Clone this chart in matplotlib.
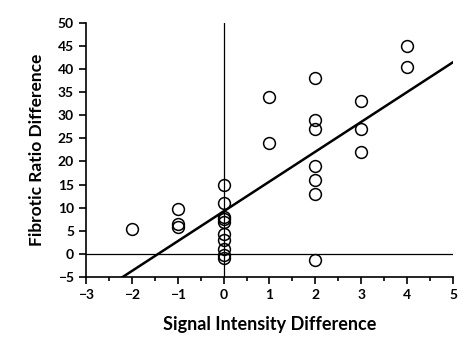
import numpy as np
import matplotlib.pyplot as plt

plt.rcParams['font.family'] = ['Lato', 'DejaVu Sans']

# signal intensity difference (x) and fibrotic ratio difference (y)
signal_diff = [-2,
               -1, -1, -1,
               0, 0, 0, 0, 0, 0, 0, 0, 0, 0,
               1, 1,
               2, 2, 2, 2, 2, 2, 2,
               3, 3, 3,
               4, 4]
fibrotic_diff = [5.5,
                 9.7, 6.5, 5.8,
                 15, 11, 8, 7.5, 7, 4.3, 3, 1, -0.3, -0.8,
                 34, 24,
                 38, 29, 27, 19, 16, 13, -1.3,
                 33, 27, 22,
                 45, 40.5]

# fitted regression line
fit_slope = 6.46
fit_intercept = 9.2

fig = plt.figure(figsize=(4.74, 3.57), dpi=100)
ax = fig.add_axes([0.181, 0.224, 0.775, 0.712])

# reference lines
ax.axhline(0, color='black', linewidth=0.9, zorder=1)
ax.axvline(0, color='black', linewidth=0.9, zorder=1)

xfit = np.array([-3, 5])
ax.plot(xfit, fit_slope * xfit + fit_intercept, color='black', linewidth=1.8, zorder=2)

ax.plot(signal_diff, fibrotic_diff, 'o', markersize=8.5, markerfacecolor='none',
        markeredgecolor='black', markeredgewidth=1.1, zorder=3)

ax.set_xlim(-3, 5)
ax.set_ylim(-5, 50)
ax.set_xticks(range(-3, 6))
ax.set_xticks(np.arange(-3, 5.01, 0.5), minor=True)
ax.set_yticks(range(-5, 51, 5))
ax.set_xticklabels(['\u22123', '\u22122', '\u22121', '0', '1', '2', '3', '4', '5'])
ax.set_yticklabels(['\u22125'] + [str(v) for v in range(0, 51, 5)])

for s in ['top', 'right']:
    ax.spines[s].set_visible(False)
for s in ['left', 'bottom']:
    ax.spines[s].set_linewidth(1.2)

ax.tick_params(axis='both', which='major', direction='out', length=5, width=1.2,
               labelsize=10)
ax.tick_params(axis='x', which='minor', direction='out', length=3, width=1.2)
for lab in ax.get_xticklabels() + ax.get_yticklabels():
    lab.set_fontweight('bold')

ax.set_xlabel('Signal Intensity Difference', fontsize=13, fontweight='bold', labelpad=11)
ax.set_ylabel('Fibrotic Ratio Difference', fontsize=12.5, fontweight='bold', labelpad=9)

fig.savefig('out.png', dpi=100)
